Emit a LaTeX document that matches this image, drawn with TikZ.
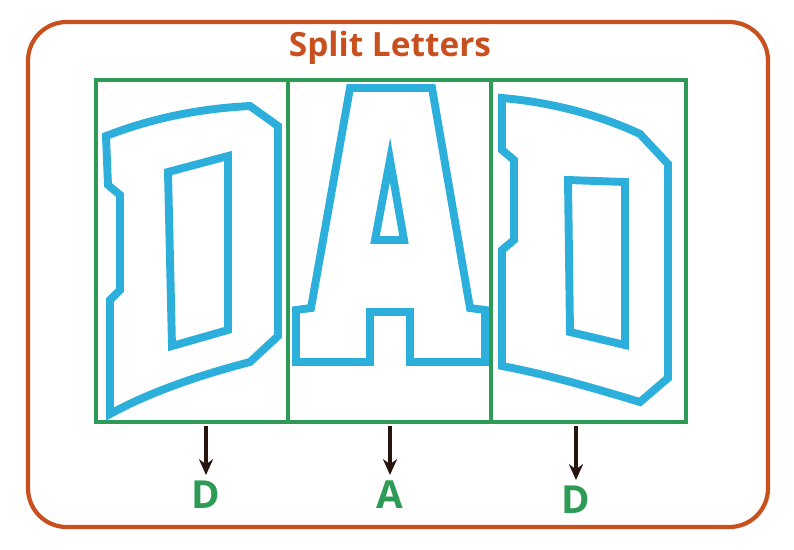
\documentclass[tikz,border=0pt]{standalone}
\usepackage{fontspec}
\setmainfont{Open Sans}
\usetikzlibrary{arrows.meta}
\definecolor{frameorange}{RGB}{200,80,30}
\definecolor{boxgreen}{RGB}{45,155,85}
\definecolor{threadblue}{RGB}{45,175,220}
\definecolor{arrowbrown}{RGB}{40,20,15}
\tikzset{
  frame/.style={draw=frameorange, line width=2.4pt, rounded corners=22pt},
  cell/.style={draw=boxgreen, line width=2.2pt},
  stitch/.style={draw=threadblue, line width=4.5pt, fill=white, line join=miter},
  hole/.style={draw=threadblue, line width=4.5pt, fill=white},
  pointer/.style={-{Stealth[length=9pt,width=8pt]}, draw=arrowbrown, line width=2.2pt},
  result/.style={text=boxgreen, font=\bfseries\fontsize{22}{24}\selectfont},
  title/.style={text=frameorange, font=\bfseries\fontsize{19}{22}\selectfont}
}
\begin{document}
\begin{tikzpicture}[x=0.02cm,y=-0.02cm]
\useasboundingbox (0,0) rectangle (794,549);

%%% Frame and title
\draw[frame] (28,22) rectangle (768,527);
\node[title] (title) at (390,48) {Split Letters};

%%% Cells
\draw[cell] (96,80) rectangle (686,422);
\draw[cell] (288,80) -- (288,422);
\draw[cell] (491,80) -- (491,422);

%%% Letter D (left)
\draw[stitch] (106,136) .. controls (160,115) and (210,108) .. (250,106)
  -- (278,126) -- (278,336) -- (250,362)
  .. controls (200,375) and (150,392) .. (110,414)
  -- (110,300) -- (120,290) -- (120,195) -- (108,185) -- cycle;
\draw[hole] (168,172) -- (228,156) -- (228,330) -- (172,346) -- cycle;

%%% Letter A (middle)
\draw[stitch] (350,88) -- (432,88) -- (470,308) -- (485,310) -- (485,362)
  -- (410,362) -- (410,312) -- (370,312) -- (370,362) -- (296,362)
  -- (296,310) -- (311,308) -- cycle;
\draw[hole] (390,160) -- (404,240) -- (375,240) -- cycle;

%%% Letter D (right)
\draw[stitch] (502,98) .. controls (550,102) and (600,115) .. (640,134)
  -- (668,164) -- (668,378) -- (640,402)
  .. controls (600,390) and (550,375) .. (502,366)
  -- (502,250) -- (514,240) -- (514,160) -- (502,150) -- cycle;
\draw[hole] (568,180) -- (625,182) -- (625,345) -- (570,332) -- cycle;

%%% Results
\node[result] (d1) at (206,495) {D};
\node[result] (a) at (390,495) {A};
\node[result] (d2) at (576,500) {D};
\coordinate (t1) at (206,426);
\coordinate (t2) at (390,426);
\coordinate (t3) at (576,426);
\draw[pointer] (t1) -- (d1.north);
\draw[pointer] (t2) -- (a.north);
\draw[pointer] (t3) -- (d2.north);

\end{tikzpicture}
\end{document}
